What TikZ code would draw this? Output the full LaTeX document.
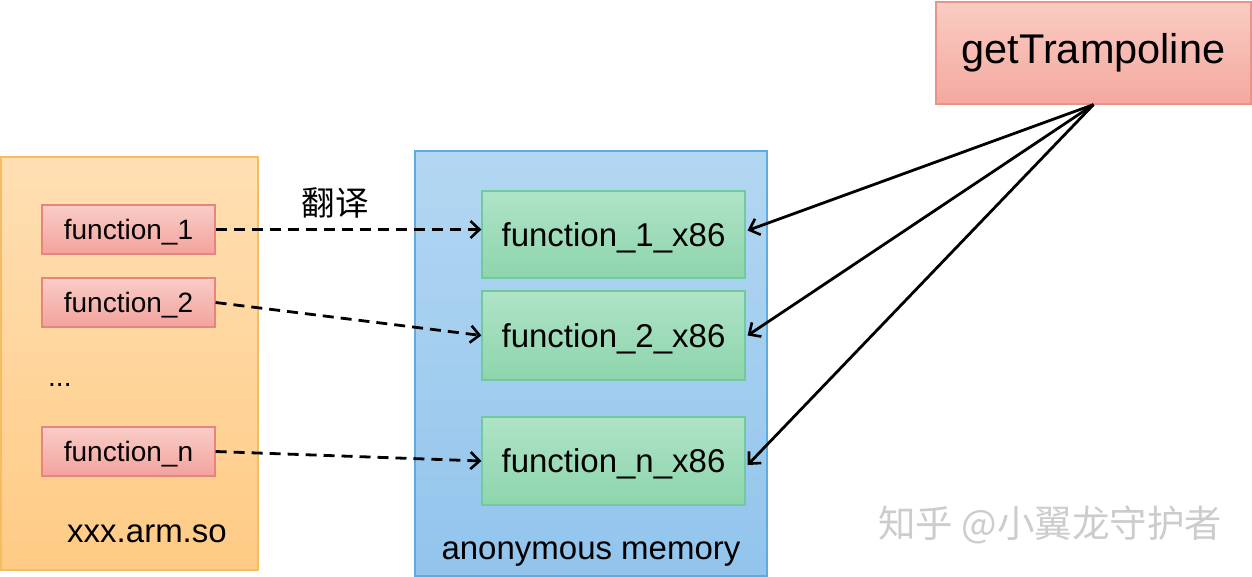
\documentclass[tikz,border=0pt]{standalone}
\usepackage{fontspec}
\setmainfont{Liberation Sans}
\newfontfamily\cjk{Noto Sans CJK SC}
\usetikzlibrary{arrows.meta}
\definecolor{orTop}{HTML}{FFDFB3}
\definecolor{orBot}{HTML}{FFCB85}
\definecolor{orLine}{HTML}{F5BD60}
\definecolor{rdTop}{HTML}{F9CDC7}
\definecolor{rdBot}{HTML}{F3A29C}
\definecolor{rdLine}{HTML}{E8847E}
\definecolor{blTop}{HTML}{B3D7F2}
\definecolor{blBot}{HTML}{92C4EC}
\definecolor{blLine}{HTML}{5DABDF}
\definecolor{grTop}{HTML}{AFE3C7}
\definecolor{grBot}{HTML}{8DD5AC}
\definecolor{grLine}{HTML}{6FCA9C}
\definecolor{gtTop}{HTML}{F9CCC3}
\definecolor{gtBot}{HTML}{F5A89F}
\definecolor{gtLine}{HTML}{EA9388}
\tikzset{
  box/.style={rectangle, inner sep=0pt, line width=1.2pt},
  orbox/.style={box, draw=orLine, top color=orTop, bottom color=orBot},
  blbox/.style={box, draw=blLine, top color=blTop, bottom color=blBot},
  armfn/.style={box, draw=rdLine, top color=rdTop, bottom color=rdBot,
    minimum width=173pt, minimum height=49pt, text depth=0pt, font=\fontsize{28}{32}\selectfont},
  x86fn/.style={box, draw=grLine, top color=grTop, bottom color=grBot,
    minimum width=263pt, text depth=0pt, font=\fontsize{33}{38}\selectfont},
  gtbox/.style={box, draw=gtLine, top color=gtTop, bottom color=gtBot,
    minimum width=315pt, minimum height=102pt, font=\fontsize{41.5}{46}\selectfont},
  lbl/.style={inner sep=0pt, font=\fontsize{33}{38}\selectfont},
  tip/.style={-{Straight Barb[length=9pt,width=17pt,line width=2.6pt]}},
  trans/.style={tip, line width=2.8pt, dash pattern=on 11pt off 7pt},
  call/.style={tip, line width=2.8pt},
}
\begin{document}
\begin{tikzpicture}[x=1pt,y=-1pt]
\useasboundingbox (0,0) rectangle (1252,577);
% containers
\node[orbox, minimum width=257pt, minimum height=413pt] (arm) at (129.5,363.5) {};
\node[blbox, minimum width=352pt, minimum height=425pt] (mem) at (591,363.5) {};
\node[lbl, anchor=base] (armlbl) at (147,542) {xxx.arm.so};
\node[lbl, anchor=base] (memlbl) at (591,559) {anonymous memory};
% arm functions
\node[armfn] (f1) at (128.5,229.5) {function\_1};
\node[armfn] (f2) at (128.5,302.5) {function\_2};
\node[lbl, font=\fontsize{28}{32}\selectfont, anchor=base west] (dots) at (48,386) {...};
\node[armfn] (fn) at (128.5,451.5) {function\_n};
% x86 functions
\node[x86fn, minimum height=87pt] (g1) at (613.5,234.5) {function\_1\_x86};
\node[x86fn, minimum height=89pt] (g2) at (613.5,335.5) {function\_2\_x86};
\node[x86fn, minimum height=88pt] (gn) at (613.5,461) {function\_n\_x86};
% trampoline
\node[gtbox] (gt) at (1093.5,53) {getTrampoline};
% translate label
\node[inner sep=0pt, font=\cjk\fontsize{33.5}{36}\selectfont] (tr) at (335,203) {翻译};
% dashed translate arrows
\draw[trans] (f1.east) -- (f1.east -| g1.west);
\draw[trans] (f2.east) -- (g2.west);
\draw[trans] (fn.east) -- (gn.west);
% trampoline arrows
\draw[call] (gt.south) -- ([xshift=2pt,yshift=4pt]g1.east);
\draw[call] (gt.south) -- ([xshift=2pt]g2.east);
\draw[call] (gt.south) -- ([xshift=2pt,yshift=-4pt]gn.east);
% watermark
\node[inner sep=0pt, anchor=west, text=gray!40, font=\cjk\fontsize{37.5}{40}\selectfont] (wm) at (878,525) {知乎 @小翼龙守护者};
\end{tikzpicture}
\end{document}
